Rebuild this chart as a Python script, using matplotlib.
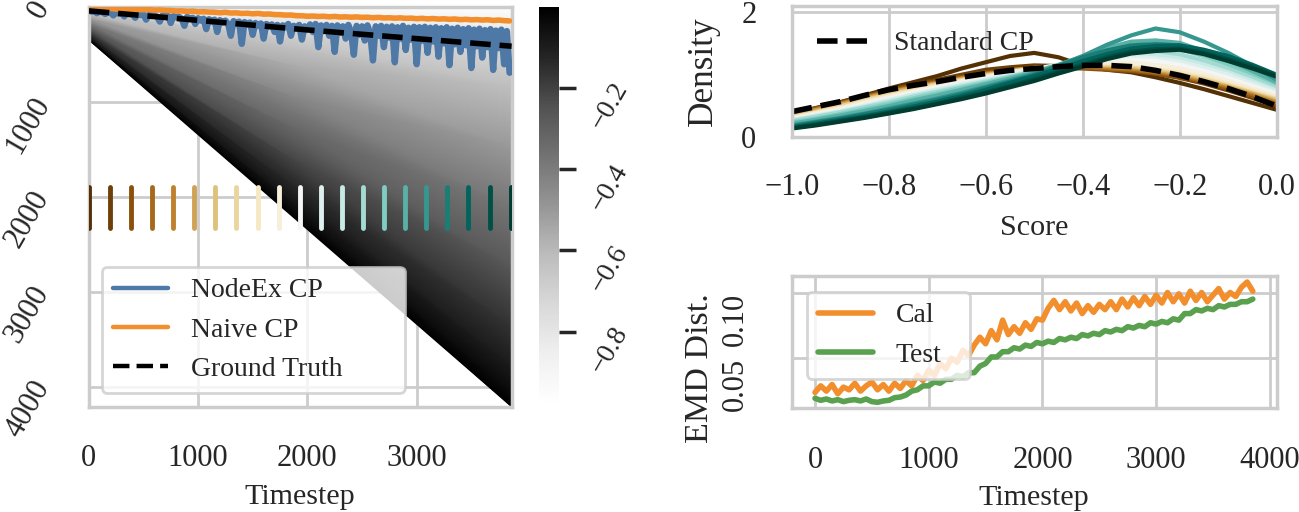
"""Calibration-score drift figure: sorted score heatmap, score densities, EMD."""
import matplotlib
matplotlib.use("Agg")
import matplotlib.pyplot as plt
import numpy as np
import seaborn as sns
from matplotlib.ticker import FormatStrFormatter

sns.set_theme(style="whitegrid", context="notebook")
plt.rcParams.update({
    "font.family": ["Liberation Serif", "DejaVu Serif"],
    "xtick.labelsize": 11,
    "ytick.labelsize": 11,
    "axes.labelsize": 10.8,
    "legend.fontsize": 10,
})

BLUE, ORANGE, GREEN = "#4e79a7", "#f28e2b", "#59a14f"

# ---- left panel: sorted calibration scores per timestep ----
N_CAL0 = 343          # calibration-set size at timestep 0 (grows by one per step)
N_STEPS = 3870
PROFILE_FRAC = [0.0, 0.05, 0.1, 0.2, 0.35, 0.5, 0.65, 0.8, 0.9, 0.97, 1.0]
PROFILE_SCORE = [-0.98, -0.84, -0.74, -0.62, -0.50, -0.38, -0.27, -0.16,
                 -0.09, -0.035, -0.002]

T_FINE = np.arange(0, 3851, 25)
NODEEX_IDX = [
    30, 45, 38, 62, 40, 52, 70, 48, 55, 85, 52, 66, 60, 95, 63, 72, 68, 110, 70, 82,
    75, 130, 78, 92, 80, 100, 150, 84, 95, 90, 165, 92, 105, 98, 120, 195, 100, 118, 110, 175,
    115, 140, 120, 230, 125, 150, 130, 260, 135, 160, 140, 175, 300, 145, 170, 150, 385, 155, 180, 160,
    290, 165, 190, 170, 330, 175, 200, 180, 260, 185, 360, 190, 210, 175, 300, 195, 220, 185, 340, 200,
    230, 180, 260, 175, 420, 190, 250, 185, 300, 195, 470, 190, 270, 200, 330, 185, 260, 500, 195, 290,
    200, 350, 190, 280, 560, 200, 300, 195, 420, 205, 320, 200, 580, 210, 330, 195, 450, 215, 340, 205,
    600, 210, 350, 205, 480, 215, 360, 210, 520, 220, 380, 210, 610, 225, 390, 215, 470, 230, 400, 220,
    640, 235, 410, 225, 530, 240, 420, 230, 660, 245, 430, 235, 600, 250, 690]

T_SAMPLE = np.arange(0, 3851, 50)
NAIVE_IDX = [5, 12, 7, 15, 11, 19, 14, 22, 20, 24, 25, 22, 30, 27, 32, 33,
             39, 37, 44, 40, 48, 46, 50, 51, 57, 52, 60, 58,
             64, 62, 68, 64, 72, 70, 76, 77, 82, 81, 88, 89,
             94, 92, 96, 94, 100, 96, 102, 100, 104, 101, 106, 104,
             110, 106, 112, 110, 114, 111, 116, 114, 120, 116, 122, 118,
             124, 121, 126, 123, 130, 126, 132, 129, 134, 131, 138, 134, 140, 143]
GT_T = [0, 1000, 2000, 3000, 3869]
GT_IDX = [37, 137, 238, 330, 410]

MARK_T = [0, 193, 386, 579, 772, 965, 1158, 1351, 1544, 1737, 1930, 2123, 2316,
          2509, 2702, 2895, 3088, 3281, 3474, 3667, 3860]
MARK_Y = (1900, 2330)

# ---- top right: score densities at the marked timesteps ----
SCORE_X = [-1.0, -0.95, -0.9, -0.85, -0.8, -0.75, -0.7, -0.65, -0.6, -0.55, -0.5,
           -0.45, -0.4, -0.35, -0.3, -0.25, -0.2, -0.15, -0.1, -0.05, 0.0]
DENSITIES = [
    [0.38, 0.46, 0.56, 0.67, 0.78, 0.88, 0.98, 1.10, 1.20, 1.30, 1.35, 1.28, 1.15, 1.08, 1.04, 0.96, 0.87, 0.77, 0.66, 0.55, 0.44],
    [0.38, 0.47, 0.56, 0.66, 0.76, 0.84, 0.92, 1.00, 1.08, 1.12, 1.15, 1.14, 1.12, 1.10, 1.07, 1.02, 0.95, 0.86, 0.75, 0.63, 0.50],
    [0.37, 0.46, 0.55, 0.65, 0.75, 0.83, 0.90, 0.97, 1.04, 1.08, 1.11, 1.11, 1.10, 1.08, 1.06, 1.02, 0.96, 0.88, 0.78, 0.66, 0.53],
    [0.36, 0.45, 0.54, 0.64, 0.73, 0.81, 0.88, 0.95, 1.02, 1.07, 1.11, 1.12, 1.12, 1.10, 1.08, 1.04, 0.98, 0.90, 0.81, 0.69, 0.56],
    [0.35, 0.44, 0.53, 0.63, 0.72, 0.80, 0.87, 0.94, 1.01, 1.07, 1.11, 1.13, 1.14, 1.12, 1.10, 1.06, 1.00, 0.92, 0.83, 0.72, 0.60],
    [0.34, 0.43, 0.52, 0.62, 0.71, 0.79, 0.86, 0.93, 1.00, 1.06, 1.11, 1.14, 1.15, 1.14, 1.12, 1.08, 1.02, 0.94, 0.85, 0.74, 0.62],
    [0.33, 0.41, 0.50, 0.60, 0.69, 0.77, 0.85, 0.92, 0.99, 1.05, 1.11, 1.14, 1.16, 1.16, 1.14, 1.10, 1.04, 0.96, 0.87, 0.76, 0.64],
    [0.32, 0.40, 0.49, 0.59, 0.68, 0.76, 0.84, 0.91, 0.98, 1.04, 1.10, 1.14, 1.17, 1.17, 1.16, 1.12, 1.06, 0.98, 0.88, 0.77, 0.66],
    [0.31, 0.39, 0.47, 0.57, 0.66, 0.74, 0.82, 0.90, 0.97, 1.04, 1.10, 1.15, 1.18, 1.19, 1.18, 1.14, 1.08, 1.00, 0.90, 0.79, 0.68],
    [0.30, 0.38, 0.46, 0.55, 0.64, 0.73, 0.81, 0.89, 0.96, 1.03, 1.09, 1.15, 1.19, 1.21, 1.20, 1.16, 1.11, 1.03, 0.93, 0.82, 0.70],
    [0.29, 0.36, 0.44, 0.53, 0.62, 0.71, 0.79, 0.87, 0.94, 1.01, 1.08, 1.15, 1.21, 1.25, 1.26, 1.23, 1.17, 1.08, 0.97, 0.85, 0.73],
    [0.28, 0.35, 0.42, 0.51, 0.60, 0.69, 0.77, 0.85, 0.92, 1.00, 1.07, 1.15, 1.22, 1.28, 1.31, 1.29, 1.23, 1.13, 1.02, 0.89, 0.76],
    [0.27, 0.34, 0.41, 0.49, 0.58, 0.67, 0.75, 0.83, 0.91, 0.98, 1.06, 1.15, 1.23, 1.31, 1.35, 1.33, 1.28, 1.18, 1.07, 0.93, 0.79],
    [0.26, 0.33, 0.40, 0.48, 0.56, 0.65, 0.73, 0.81, 0.89, 0.97, 1.05, 1.15, 1.24, 1.33, 1.39, 1.38, 1.33, 1.23, 1.11, 0.97, 0.82],
    [0.24, 0.30, 0.37, 0.45, 0.53, 0.62, 0.70, 0.79, 0.87, 0.96, 1.05, 1.15, 1.26, 1.37, 1.45, 1.45, 1.41, 1.30, 1.17, 1.02, 0.86],
    [0.22, 0.28, 0.35, 0.42, 0.50, 0.59, 0.67, 0.76, 0.85, 0.94, 1.04, 1.16, 1.29, 1.43, 1.53, 1.55, 1.51, 1.38, 1.23, 1.06, 0.88],
    [0.19, 0.25, 0.31, 0.38, 0.46, 0.54, 0.62, 0.71, 0.81, 0.91, 1.02, 1.15, 1.30, 1.48, 1.63, 1.74, 1.68, 1.53, 1.35, 1.14, 0.92],
    [0.18, 0.24, 0.30, 0.37, 0.44, 0.52, 0.60, 0.69, 0.79, 0.89, 1.00, 1.14, 1.28, 1.39, 1.47, 1.49, 1.47, 1.39, 1.28, 1.14, 0.98],
    [0.16, 0.22, 0.28, 0.34, 0.41, 0.49, 0.57, 0.66, 0.76, 0.87, 0.98, 1.10, 1.22, 1.33, 1.42, 1.46, 1.47, 1.40, 1.30, 1.16, 1.00],
    [0.15, 0.20, 0.26, 0.32, 0.39, 0.46, 0.54, 0.63, 0.72, 0.82, 0.93, 1.05, 1.16, 1.28, 1.37, 1.41, 1.42, 1.35, 1.25, 1.13, 0.99],
    [0.14, 0.19, 0.25, 0.31, 0.38, 0.45, 0.53, 0.61, 0.70, 0.80, 0.90, 1.02, 1.13, 1.25, 1.34, 1.38, 1.40, 1.33, 1.22, 1.10, 0.97],
]
STANDARD_CP = [0.41, 0.49, 0.57, 0.67, 0.76, 0.83, 0.89, 0.96, 1.02, 1.07, 1.10,
               1.13, 1.15, 1.15, 1.13, 1.07, 0.99, 0.89, 0.78, 0.65, 0.50]

# ---- bottom right: EMD distance over time (sampled every 50 steps) ----
EMD_CAL = [0.024, 0.029, 0.025, 0.030, 0.023, 0.028, 0.026, 0.031, 0.025, 0.029,
           0.032, 0.026, 0.030, 0.025, 0.031, 0.027,
           0.033, 0.029, 0.037, 0.033, 0.041, 0.037, 0.046, 0.042, 0.050, 0.047,
           0.056, 0.052,
           0.060, 0.066, 0.061, 0.071, 0.064, 0.079, 0.068, 0.074, 0.069, 0.077,
           0.072, 0.080,
           0.079, 0.088, 0.094, 0.087, 0.093, 0.086, 0.092, 0.084, 0.090, 0.085,
           0.091, 0.087,
           0.093, 0.087, 0.095, 0.089, 0.096, 0.090, 0.097, 0.091, 0.098, 0.092,
           0.100, 0.093,
           0.099, 0.092, 0.101, 0.094, 0.100, 0.093, 0.098, 0.103, 0.095, 0.100,
           0.097, 0.104, 0.108, 0.101]
EMD_TEST = [0.0195, 0.018, 0.019, 0.0175, 0.0185, 0.017, 0.018, 0.0185, 0.0175,
            0.019, 0.017, 0.0165, 0.0175, 0.018, 0.020, 0.0205,
            0.022, 0.025, 0.026, 0.029, 0.029, 0.032, 0.031, 0.034, 0.034, 0.037,
            0.036, 0.039,
            0.039, 0.044, 0.046, 0.051, 0.051, 0.055, 0.055, 0.058, 0.057, 0.060,
            0.059, 0.062,
            0.061, 0.063, 0.062, 0.065, 0.064, 0.066, 0.065, 0.068, 0.067, 0.069,
            0.068, 0.071,
            0.070, 0.072, 0.071, 0.074, 0.073, 0.075, 0.074, 0.077, 0.076, 0.078,
            0.077, 0.080,
            0.079, 0.084, 0.084, 0.087, 0.086, 0.088, 0.087, 0.090, 0.089, 0.091,
            0.091, 0.093, 0.093, 0.095]

W, H = 1299, 512
fig = plt.figure(figsize=(W / 200, H / 200), dpi=200)


def px_axes(left, top, right, bottom):
    return fig.add_axes([left / W, 1 - bottom / H, (right - left) / W, (bottom - top) / H])


# left: heatmap of sorted scores (rows = rank within the calibration set)
ax = px_axes(88.7, 7.3, 511.7, 406.7)
cols = np.array([0, N_STEPS - 1])
frac = np.array(PROFILE_FRAC)[:, None]
mesh_x = np.broadcast_to(cols[None, :], (len(PROFILE_FRAC), 2))
mesh_y = frac * (N_CAL0 + cols[None, :])
mesh_c = np.broadcast_to(np.array(PROFILE_SCORE)[:, None], mesh_x.shape)
mesh = ax.pcolormesh(mesh_x, mesh_y, mesh_c, shading="gouraud", cmap="Greys",
                     vmin=-0.98, vmax=-0.002, zorder=1)
ax.plot(T_FINE, NODEEX_IDX, color=BLUE, lw=2.3, label="NodeEx CP", zorder=3)
ax.plot(T_SAMPLE, NAIVE_IDX, color=ORANGE, lw=2, label="Naive CP", zorder=3)
ax.plot(GT_T, GT_IDX, color="black", lw=2, ls="--", label="Ground Truth", zorder=4)
marks = plt.get_cmap("BrBG")(np.linspace(0, 1, len(MARK_T)))
ax.vlines(MARK_T, *MARK_Y, colors=marks, lw=1.75, capstyle="round", zorder=5)
ax.set_xlim(-0.5, N_STEPS - 0.5)
ax.set_ylim(N_CAL0 + N_STEPS - 1, -0.5)
ax.set_xticks([0, 1000, 2000, 3000])
ax.set_yticks([0, 1000, 2000, 3000, 4000])
ax.tick_params(axis="x", pad=7.5)
ax.tick_params(axis="y", rotation=60, pad=6)
ax.set_xlabel("Timestep", labelpad=3.8)
for line in ax.legend(loc="lower left", mode="expand", borderaxespad=0,
                      bbox_to_anchor=(0.0307, 0.0343, 0.717, 0.338)).get_lines():
    line.set_linewidth(1.6)

cax = px_axes(539.3, 7.3, 559.3, 405)
cbar = fig.colorbar(mesh, cax=cax)
cbar.set_ticks([-0.8, -0.6, -0.4, -0.2])
cbar.outline.set_visible(False)
cax.tick_params(axis="y", rotation=60, labelsize=10)

# top right: score densities
ax_d = px_axes(791.7, 6, 1276.7, 137.3)
for k, dens in enumerate(DENSITIES):
    ax_d.plot(SCORE_X, dens, color=marks[k], lw=1.5)
ax_d.plot(SCORE_X, STANDARD_CP, color="black", lw=2, ls="--", label="Standard CP")
ax_d.set_xlim(-1, 0)
ax_d.set_ylim(0, 2.1)
ax_d.set_yticks([0, 2])
ax_d.tick_params(axis="x", pad=7)
ax_d.tick_params(axis="y", pad=6.7)
ax_d.set_xlabel("Score", labelpad=4.7)
ax_d.set_ylabel("Density", fontsize=12.7, labelpad=7.6)
ax_d.legend(loc="upper left", frameon=False)

# bottom right: EMD distance
ax_e = px_axes(791.7, 276, 1276.7, 408.3)
ax_e.plot(T_SAMPLE, EMD_CAL, color=ORANGE, lw=2, label="Cal")
ax_e.plot(T_SAMPLE, EMD_TEST, color=GREEN, lw=2, label="Test")
ax_e.set_xlim(-205, 4060)
ax_e.set_yticks([0.05, 0.10])
ax_e.yaxis.set_major_formatter(FormatStrFormatter("%.2f"))
ax_e.tick_params(axis="y", rotation=90, pad=8.9)
plt.setp(ax_e.get_yticklabels(), va="top")
ax_e.set_xticks([0, 1000, 2000, 3000, 4000])
ax_e.tick_params(axis="x", pad=7.5)
ax_e.set_xlabel("Timestep", labelpad=3.8)
ax_e.set_ylabel("EMD Dist.", fontsize=12.3)
ax_e.yaxis.set_label_coords(-0.158, 0.305)
ax_e.legend(loc="upper left", mode="expand", borderaxespad=0,
            bbox_to_anchor=(0.0309, 0.189, 0.3367, 0.692))

fig.savefig("out.png", dpi=200)
